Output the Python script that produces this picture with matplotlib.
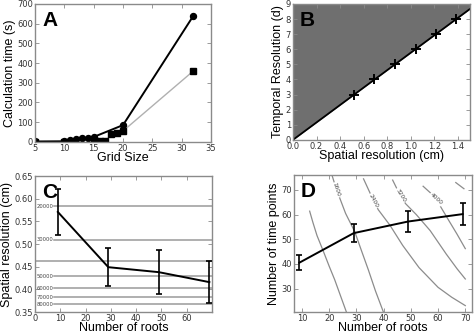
import matplotlib

matplotlib.use("Agg")
import matplotlib.pyplot as plt
import numpy as np

# A: calculation time vs grid size
grid_circle = [5, 10, 11, 12, 13, 14, 15, 20, 32]
time_circle = [2, 3, 8, 14, 18, 20, 25, 85, 640]
grid_square = [5, 10, 15, 16, 17, 18, 19, 20, 32]
time_square = [0, 0, 10, 3, 3, 40, 43, 55, 360]

# B: feasible temporal vs spatial resolution
spatial_res = [0.52, 0.69, 0.87, 1.04, 1.21, 1.385]
temporal_res = [3, 4, 5, 6, 7, 8]
boundary_x = [0.0, 1.5]
boundary_y = [0.0, 8.66]

# C: spatial resolution vs number of roots
roots = [9, 29, 49, 69]
spatial_mean = [0.571, 0.449, 0.438, 0.416]
spatial_err = [0.051, 0.042, 0.048, 0.047]
c_levels = [0.5836, 0.5099, 0.462, 0.4288, 0.4030, 0.383, 0.3676]
c_labels = ["20000", "30000", "", "50000", "60000", "70000", "80000"]

# D: number of time points vs number of roots
time_points = [40.5, 52.5, 57.2, 60.2]
time_points_err = [3.0, 3.5, 4.4, 4.5]
d_curves = {
    "": ([12.8, 14.0, 15.5, 17.7, 20.0, 22.0, 24.0, 26.3],
         [61.4, 56.8, 51.5, 45.5, 39.0, 33.6, 27.5, 20.5]),
    "1600": ([21.0, 22.7, 23.9, 26.0, 29.4, 31.8, 34.4, 37.0, 39.9],
             [76.0, 70.0, 66.6, 60.5, 53.0, 45.5, 37.5, 29.0, 20.5]),
    "2400": ([32.6, 35.6, 38.0, 42.3, 47.0, 53.0, 60.0, 65.0, 70.0],
             [74.5, 67.3, 62.0, 55.7, 47.5, 38.5, 30.5, 26.5, 23.1]),
    "3200": ([43.3, 45.4, 48.0, 52.0, 57.1, 63.0, 67.0, 70.0],
             [74.0, 69.3, 64.5, 60.0, 53.5, 44.0, 38.0, 33.9]),
    "4000": ([54.5, 57.5, 60.5, 64.0, 67.0, 70.0],
             [71.5, 68.5, 64.0, 57.5, 52.0, 46.2]),
    "4800": ([66.5, 69.5], [73.0, 70.5]),
}
d_label_pos = {"1600": (22.7, 70.0, -72), "2400": (36.2, 65.5, -62),
               "3200": (46.3, 67.8, -58), "4000": (59.2, 66.2, -42)}

plt.rcParams["font.family"] = ["DejaVu Sans"]
LABEL_FONT = "Liberation Sans"
SPINE = "#8a8a8a"

fig = plt.figure(figsize=(4.74, 3.33), dpi=100)
ax_a = fig.add_axes([0.074, 0.574, 0.371, 0.414])
ax_b = fig.add_axes([0.618, 0.580, 0.373, 0.408])
ax_c = fig.add_axes([0.074, 0.063, 0.373, 0.408])
ax_d = fig.add_axes([0.620, 0.063, 0.376, 0.411])


def style(ax, letter):
    for spine in ax.spines.values():
        spine.set_color(SPINE)
        spine.set_linewidth(1.0)
    ax.tick_params(direction="in", top=True, right=True, length=3, width=0.6,
                   color=SPINE, labelsize=6, pad=1.5, labelcolor="#333333")
    ax.text(0.04, 0.95, letter, transform=ax.transAxes, fontsize=15,
            fontweight="bold", family=LABEL_FONT, va="top", ha="left", zorder=10)


def labels(ax, xlabel, ylabel):
    ax.set_xlabel(xlabel, family=LABEL_FONT, fontsize=9, labelpad=-1)
    ax.set_ylabel(ylabel, family=LABEL_FONT, fontsize=9, labelpad=1)


# A
ax_a.plot(grid_square, time_square, color="#b0b0b0", lw=1.0, marker="s",
          ms=4.8, mfc="black", mec="black")
ax_a.plot(grid_circle, time_circle, color="black", lw=1.4, marker="o",
          ms=4.3, mfc="black", mec="black")
ax_a.set_xlim(5, 35)
ax_a.set_ylim(0, 700)
ax_a.set_xticks(range(5, 36, 5))
ax_a.set_yticks(range(0, 701, 100))
labels(ax_a, "Grid Size", "Calculation time (s)")
style(ax_a, "A")

# B
ax_b.fill_between(boundary_x, boundary_y, 9, color="#6f6f6f", lw=0)
ax_b.plot(boundary_x, boundary_y, color="black", lw=1.3)
ax_b.plot(spatial_res, temporal_res, ls="none", marker="+", ms=7, mew=1.4,
          color="black")
ax_b.set_xlim(0, 1.5)
ax_b.set_ylim(0, 9)
ax_b.set_xticks(np.arange(0, 1.41, 0.2))
ax_b.set_yticks(range(0, 10))
labels(ax_b, "Spatial resolution (cm)", "Temporal Resolution (d)")
style(ax_b, "B")

# C
for level, label in zip(c_levels, c_labels):
    start = 7.5 if label else 0
    ax_c.plot([start, 70], [level, level], color="#9a9a9a", lw=1.1, zorder=1)
    if label:
        ax_c.text(0.6, level, label, fontsize=3.8, color="#444444",
                  va="center", ha="left")
ax_c.errorbar(roots, spatial_mean, yerr=spatial_err, color="black", lw=1.4,
              capsize=2, capthick=1.2, elinewidth=1.2, zorder=3)
ax_c.set_xlim(0, 70)
ax_c.set_ylim(0.35, 0.65)
ax_c.set_xticks(range(0, 61, 10))
ax_c.set_yticks(np.arange(0.35, 0.651, 0.05))
labels(ax_c, "Number of roots", "Spatial resolution (cm)")
style(ax_c, "C")

# D
for name, (xs, ys) in d_curves.items():
    ax_d.plot(xs, ys, color="#8c8c8c", lw=0.9, zorder=1)
for name, (lx, ly, rot) in d_label_pos.items():
    ax_d.text(lx, ly, name, fontsize=4.2, color="#444444", rotation=rot,
              ha="center", va="center", zorder=2,
              bbox=dict(boxstyle="square,pad=0.1", fc="white", ec="none"))
ax_d.errorbar(roots, time_points, yerr=time_points_err, color="black", lw=1.4,
              capsize=2, capthick=1.2, elinewidth=1.2, zorder=3)
ax_d.set_xlim(7, 72.5)
ax_d.set_ylim(20.5, 76)
ax_d.set_xticks(range(10, 71, 10))
ax_d.set_yticks(range(30, 71, 10))
labels(ax_d, "Number of roots", "Number of time points")
style(ax_d, "D")

fig.savefig("out.png", dpi=100)
